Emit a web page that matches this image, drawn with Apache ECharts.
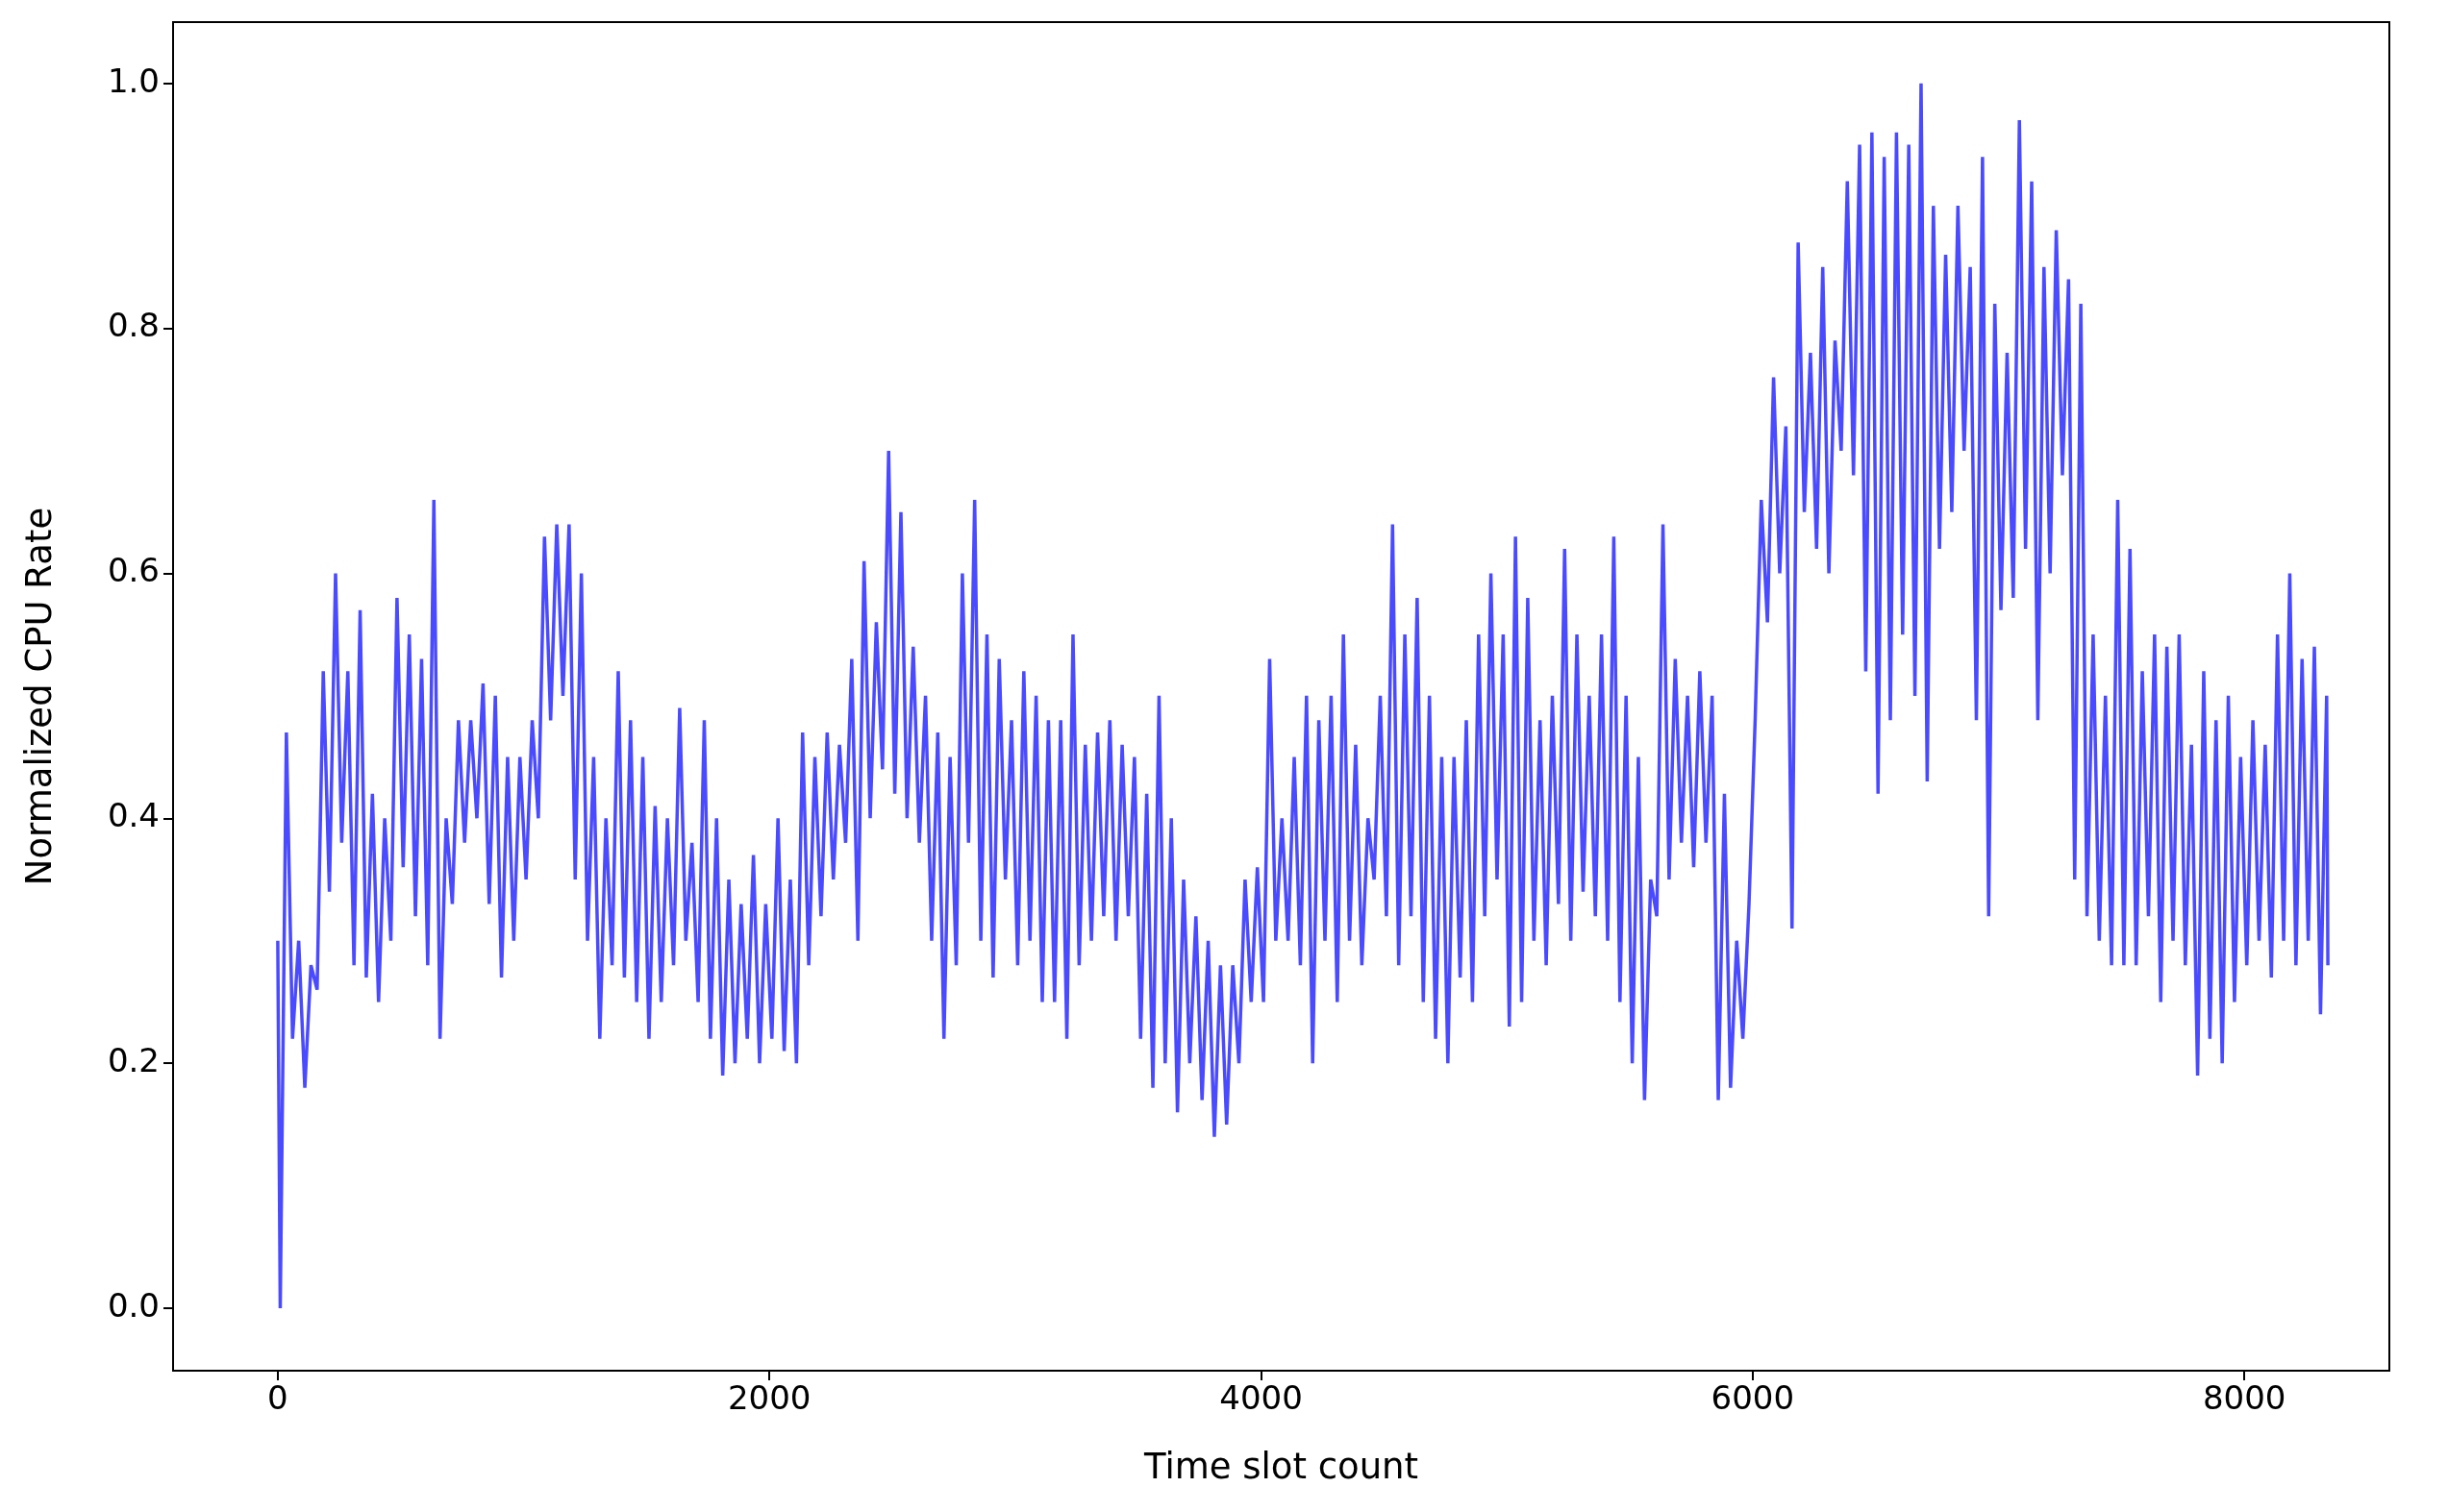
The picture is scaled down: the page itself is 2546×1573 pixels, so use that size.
<!DOCTYPE html>
<html><head><meta charset="utf-8">
<script src="https://cdn.jsdelivr.net/npm/echarts@6/dist/echarts.min.js"></script>
<style>html,body{margin:0;background:#fff}#c{width:2546px;height:1573px}</style>
</head><body><div id="c"></div>
<script>
const slotStep = 50;
const lows = [0.0,0.22,0.18,0.26,0.34,0.38,0.28,0.27,0.25,0.30,0.36,0.32,0.28,0.22,0.33,0.38,0.40,0.33,0.27,0.30,0.35,0.40,0.48,0.50,0.35,0.30,0.22,0.28,0.27,0.25,0.22,0.25,0.28,0.30,0.25,0.22,0.19,0.20,0.22,0.20,0.22,0.21,0.20,0.28,0.32,0.35,0.38,0.30,0.40,0.44,0.42,0.40,0.38,0.30,0.22,0.28,0.38,0.30,0.27,0.35,0.28,0.30,0.25,0.25,0.22,0.28,0.30,0.32,0.30,0.32,0.22,0.18,0.20,0.16,0.20,0.17,0.14,0.15,0.20,0.25,0.25,0.30,0.30,0.28,0.20,0.30,0.25,0.30,0.28,0.35,0.32,0.28,0.32,0.25,0.22,0.20,0.27,0.25,0.32,0.35,0.23,0.25,0.30,0.28,0.33,0.30,0.34,0.32,0.30,0.25,0.20,0.17,0.32,0.35,0.38,0.36,0.38,0.17,0.18,0.22,0.48,0.56,0.60,0.31,0.65,0.62,0.60,0.70,0.68,0.52,0.42,0.48,0.55,0.50,0.43,0.62,0.65,0.70,0.48,0.32,0.57,0.58,0.62,0.48,0.60,0.68,0.35,0.32,0.30,0.28,0.28,0.28,0.32,0.25,0.30,0.28,0.19,0.22,0.20,0.25,0.28,0.30,0.27,0.30,0.28,0.30,0.24];
const highs = [0.47,0.30,0.28,0.52,0.60,0.52,0.57,0.42,0.40,0.58,0.55,0.53,0.66,0.40,0.48,0.48,0.51,0.50,0.45,0.45,0.48,0.63,0.64,0.64,0.60,0.45,0.40,0.52,0.48,0.45,0.41,0.40,0.49,0.38,0.48,0.40,0.35,0.33,0.37,0.33,0.40,0.35,0.47,0.45,0.47,0.46,0.53,0.61,0.56,0.70,0.65,0.54,0.50,0.47,0.45,0.60,0.66,0.55,0.53,0.48,0.52,0.50,0.48,0.48,0.55,0.46,0.47,0.48,0.46,0.45,0.42,0.50,0.40,0.35,0.32,0.30,0.28,0.28,0.35,0.36,0.53,0.40,0.45,0.50,0.48,0.50,0.55,0.46,0.40,0.50,0.64,0.55,0.58,0.50,0.45,0.45,0.48,0.55,0.60,0.55,0.63,0.58,0.48,0.50,0.62,0.55,0.50,0.55,0.63,0.50,0.45,0.35,0.64,0.53,0.50,0.52,0.50,0.42,0.30,0.33,0.66,0.76,0.72,0.87,0.78,0.85,0.79,0.92,0.95,0.96,0.94,0.96,0.95,1.00,0.90,0.86,0.90,0.85,0.94,0.82,0.78,0.97,0.92,0.85,0.88,0.84,0.82,0.55,0.50,0.66,0.62,0.52,0.55,0.54,0.55,0.46,0.52,0.48,0.50,0.45,0.48,0.46,0.55,0.60,0.53,0.54,0.50];
const endSlot = 8340, endValue = 0.28;
const xTicks = [0,2000,4000,6000,8000];
const yTicks = [0,0.2,0.4,0.6,0.8,1.0];

const data = [[0,0.3]];
lows.forEach((lo,i)=>{ data.push([i*slotStep+10, lo]); data.push([i*slotStep+35, highs[i]]); });
data.push([endSlot,endValue]);

const font = 'DejaVu Sans';
const chart = echarts.init(document.getElementById('c'));
chart.setOption({
  animation:false,
  grid:{left:180,right:61,top:23,bottom:147,show:true,borderColor:'#000',borderWidth:2,backgroundColor:'transparent'},
  xAxis:{type:'value',min:-426,max:8590,name:'Time slot count',nameLocation:'middle',nameGap:84,
    nameTextStyle:{fontFamily:font,fontSize:37,color:'#000'},
    axisLine:{show:true,onZero:false,lineStyle:{color:'#000',width:2}},splitLine:{show:false},
    axisTick:{show:true,length:10,lineStyle:{color:'#000',width:2},customValues:xTicks},
    axisLabel:{fontFamily:font,fontSize:34,color:'#000',margin:14,customValues:xTicks,formatter:v=>String(v)}},
  yAxis:{type:'value',min:-0.051,max:1.05,name:'Normalized CPU Rate',nameLocation:'middle',nameGap:118,
    nameTextStyle:{fontFamily:font,fontSize:37,color:'#000'},
    axisLine:{show:true,onZero:false,lineStyle:{color:'#000',width:2}},splitLine:{show:false},
    axisTick:{show:true,length:10,lineStyle:{color:'#000',width:2},customValues:yTicks},
    axisLabel:{fontFamily:font,fontSize:34,color:'#000',margin:14,customValues:yTicks,formatter:v=>v.toFixed(1)}},
  series:[{type:'line',data:data,showSymbol:false,lineStyle:{color:'#4a4aff',width:3.5}}]
});
</script></body></html>
